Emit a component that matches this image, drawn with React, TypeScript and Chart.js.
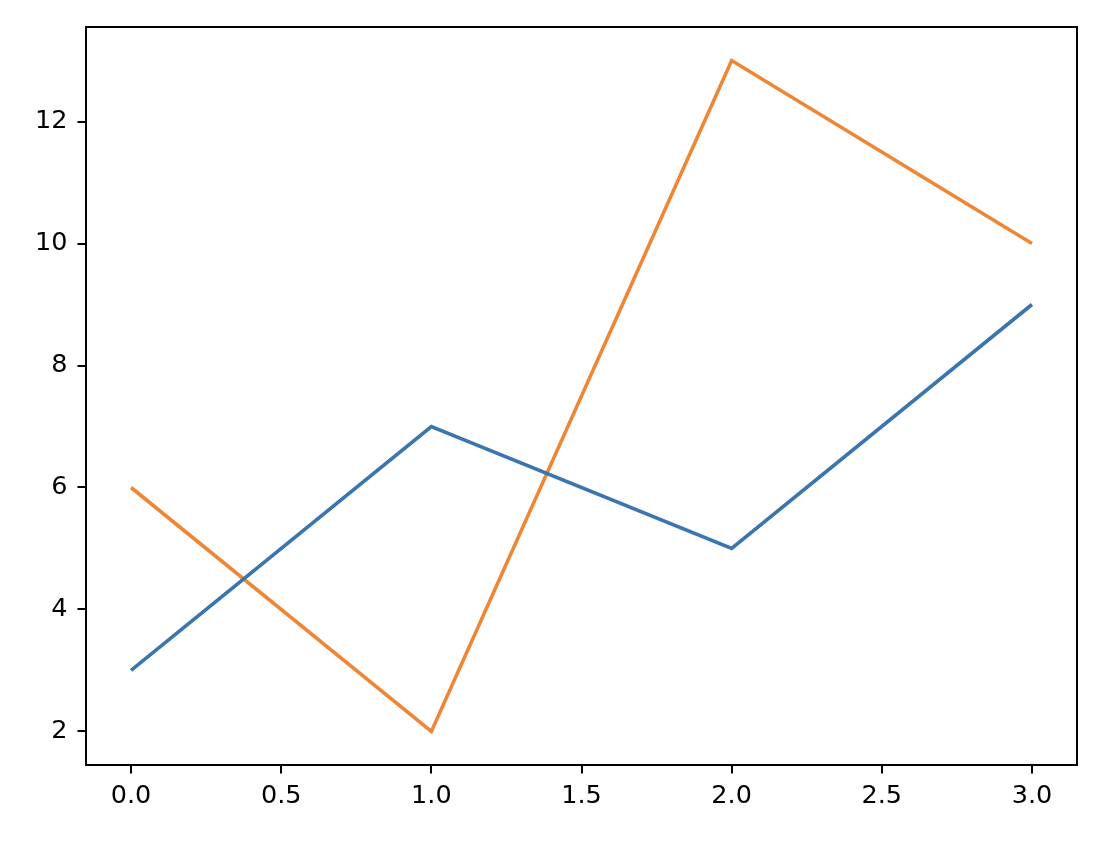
import React, { useEffect, useRef } from "react";
import { Chart, registerables } from "chart.js";

Chart.register(...registerables);

const xValues = [0, 1, 2, 3];
const blueSeries = [3, 7, 5, 9];
const orangeSeries = [6, 2, 13, 10];
const xTicks = [0, 0.5, 1, 1.5, 2, 2.5, 3];
const yTicks = [2, 4, 6, 8, 10, 12];

const frame = {
  id: "frame",
  afterDraw(chart: any) {
    const { ctx, chartArea } = chart;
    ctx.save();
    ctx.strokeStyle = "#000";
    ctx.lineWidth = 2;
    ctx.strokeRect(chartArea.left, chartArea.top, chartArea.right - chartArea.left, chartArea.bottom - chartArea.top);
    ctx.restore();
  },
};

export default function App() {
  const ref = useRef<HTMLCanvasElement>(null);
  useEffect(() => {
    if (!ref.current) return;
    const font = { family: "DejaVu Sans", size: 25.5 };
    const chart = new Chart(ref.current, {
      type: "line",
      data: {
        datasets: [
          {
            data: xValues.map((x, i) => ({ x, y: blueSeries[i] })),
            borderColor: "#3b75af",
            borderWidth: 3.6,
            pointRadius: 0,
            tension: 0,
          },
          {
            data: xValues.map((x, i) => ({ x, y: orangeSeries[i] })),
            borderColor: "#ef8636",
            borderWidth: 3.6,
            pointRadius: 0,
            tension: 0,
          },
        ],
      },
      options: {
        animation: false,
        responsive: false,
        layout: { padding: { left: 0, top: 27, right: 41, bottom: 0 } },
        plugins: { legend: { display: false }, tooltip: { enabled: false } },
        scales: {
          x: {
            type: "linear",
            min: -0.15,
            max: 3.15,
            afterBuildTicks: (s: any) => {
              s.ticks = xTicks.map((v) => ({ value: v }));
            },
            afterFit: (s: any) => {
              s.height = 77;
            },
            ticks: {
              font,
              color: "#000",
              padding: 8,
              maxRotation: 0,
              callback: (v: any) => Number(v).toFixed(1),
            },
            grid: { drawOnChartArea: false, drawTicks: true, tickLength: 8.5, color: "#000", lineWidth: 2 },
            border: { display: true, color: "#000", width: 2 },
          },
          y: {
            type: "linear",
            min: 1.45,
            max: 13.55,
            afterBuildTicks: (s: any) => {
              s.ticks = yTicks.map((v) => ({ value: v }));
            },
            afterFit: (s: any) => {
              s.width = 86;
            },
            ticks: {
              font,
              color: "#000",
              padding: 10,
              callback: (v: any) => String(v),
            },
            grid: { drawOnChartArea: false, drawTicks: true, tickLength: 8.5, color: "#000", lineWidth: 2 },
            border: { display: true, color: "#000", width: 2 },
          },
        },
      },
      plugins: [frame],
    });
    return () => chart.destroy();
  }, []);
  return (
    <div style={{ position: "fixed", left: 0, top: 0, width: 1118, height: 842, background: "#fff" }}>
      <canvas ref={ref} width={1118} height={842} style={{ width: 1118, height: 842 }} />
    </div>
  );
}
